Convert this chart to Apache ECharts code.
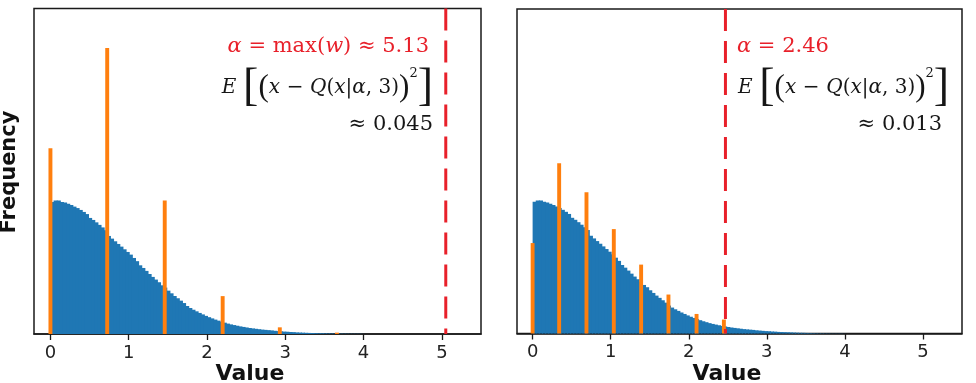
<!DOCTYPE html>
<html>
<head>
<meta charset="utf-8">
<script src="https://cdn.jsdelivr.net/npm/echarts@6/dist/echarts.min.js"></script>
<style>
  html, body { margin: 0; padding: 0; background: #ffffff; }
  #chart { width: 976px; height: 383px; }
</style>
</head>
<body>
<div id="chart"></div>
<script>
// ---------------- data ----------------
const X_TICKS = [0, 1, 2, 3, 4, 5];
const BIN_WIDTH = 0.04;
// blue histogram (same weights in both panels), relative frequency (peak = 100)
const BLUE_FREQ = [
  99, 100, 100, 99, 98.5, 97.6, 96.7, 95.5, 94.4, 93,
  91.5, 89.9, 87, 85.5, 83.7, 81.8, 79.9, 77.8, 73.5, 71.5,
  69.5, 67.5, 65.5, 63.5, 61.5, 59.5, 57, 54.6, 51.5, 49.5,
  47.3, 45, 42.8, 40.8, 38.8, 36.5, 34.8, 32.5, 30.5, 28.5,
  26.8, 25, 23.2, 21, 19.5, 18.2, 17, 15.8, 14.7, 13.6,
  12.6, 11.7, 10.8, 10, 9.2, 8.5, 7.8, 7.2, 6.7, 6.2,
  5.7, 5.3, 4.9, 4.5, 4.2, 3.9, 3.6, 3.3, 3.1, 2.9,
  2.7, 2.4, 2.2, 2.0, 1.8, 1.7, 1.5, 1.4, 1.2, 1.1,
  1.0, 0.9, 0.8, 0.7, 0.6, 0.5, 0.5, 0.4, 0.35, 0.3,
  0.25, 0.2, 0.2, 0.15, 0.15, 0.1, 0.1, 0.1, 0.1, 0.05
];
// orange histogram of quantized weights
const LEFT_LEVELS  = [0, 0.725, 1.46, 2.2, 2.93, 3.66];
const LEFT_COUNTS  = [139.3, 214.4, 100, 28.4, 5, 1.0];
const RIGHT_LEVELS = [0, 0.34, 0.69, 1.04, 1.39, 1.74, 2.10, 2.45];
const RIGHT_COUNTS = [68, 128, 106.2, 78.5, 51.8, 29.3, 14.7, 10.5];
// clipping threshold alpha (dashed red line)
const LEFT_ALPHA = 5.05;
const RIGHT_ALPHA = 2.47;
// texts
const LEFT_ALPHA_TEXT = '{it|α} = max({it|w}) ≈ 5.13';
const RIGHT_ALPHA_TEXT = '{it|α} = 2.46';
const LEFT_MSE = '≈ 0.045';
const RIGHT_MSE = '≈ 0.013';
const X_NAME = 'Value';
const Y_NAME = 'Frequency';
const Y_MAX = 244;

// ---------------- chart ----------------
const BLUE = '#1f77b4', ORANGE = '#ff7f0e', RED = '#e8202a';
const ORANGE_WIDTH = 0.05;

const blueData = BLUE_FREQ.map((v, i) => [i * BIN_WIDTH, (i + 1) * BIN_WIDTH, v]);
const leftOrange = LEFT_LEVELS.map((x, i) => [x, LEFT_COUNTS[i]]);
const rightOrange = RIGHT_LEVELS.map((x, i) => [x, RIGHT_COUNTS[i]]);

function blueRender(params, api) {
  const p0 = api.coord([api.value(0), api.value(2)]);
  const p1 = api.coord([api.value(1), 0]);
  return { type: 'rect', shape: { x: p0[0], y: p0[1], width: p1[0] - p0[0] + 1, height: p1[1] - p0[1] },
           style: { fill: BLUE, stroke: null } };
}
function orangeRender(params, api) {
  const c = api.value(0);
  const p0 = api.coord([c - ORANGE_WIDTH / 2, api.value(1)]);
  const p1 = api.coord([c + ORANGE_WIDTH / 2, 0]);
  return { type: 'rect', shape: { x: p0[0], y: p0[1], width: p1[0] - p0[0], height: p1[1] - p0[1] },
           style: { fill: ORANGE } };
}

function xAxis(gi, min) {
  return {
    type: 'value', gridIndex: gi, min: min, max: 5.5,
    splitLine: { show: false },
    axisLine: { show: true, onZero: false, lineStyle: { color: '#1a1a1a', width: 1.5 } },
    axisTick: { show: true, length: 6, customValues: X_TICKS, lineStyle: { color: '#1a1a1a', width: 1.3 } },
    axisLabel: { customValues: X_TICKS, margin: 10, fontFamily: 'DejaVu Sans', fontSize: 18, color: '#222' }
  };
}
function yAxis(gi) {
  return {
    type: 'value', gridIndex: gi, min: 0, max: Y_MAX,
    splitLine: { show: false }, axisLine: { show: false }, axisTick: { show: false }, axisLabel: { show: false }
  };
}

const serif = 'DejaVu Serif';
const thin = 'Liberation Serif';
const INK = '#161616';
const mathRich = {
  it: { fontFamily: serif, fontStyle: 'italic', fontSize: 20, fill: INK, color: INK },
  n:  { fontFamily: serif, fontSize: 20, fill: INK, color: INK },
  bb: { fontFamily: thin, fontSize: 46, fill: INK, color: INK },
  bp: { fontFamily: thin, fontSize: 31, fill: INK, color: INK },
  sup:{ fontFamily: serif, fontSize: 13, fill: INK, color: INK, padding: [0, 0, 28, 0] }
};
const redRich = {
  it: { fontFamily: serif, fontStyle: 'italic', fontSize: 21, fill: RED, color: RED }
};
const mseExpr = '{it|E} {bb|[}{bp|(}{it|x} {n|−} {it|Q}{n|(}{it|x}{n||}{it|α}{n|, 3)}{bp|)}{sup|2}{bb|]}';

function textEl(x, y, text, opts) {
  return {
    type: 'text', x: x, y: y, z: 100,
    style: Object.assign({ text: text, fontFamily: serif, fontSize: 21, fill: INK }, opts)
  };
}

const option = {
  backgroundColor: '#ffffff',
  animation: false,
  grid: [
    { left: 34, top: 8.5, width: 447, height: 325.5, show: true, borderColor: '#1a1a1a', borderWidth: 1.5, backgroundColor: '#fff' },
    { left: 517, top: 9, width: 445, height: 324.5, show: true, borderColor: '#1a1a1a', borderWidth: 1.5, backgroundColor: '#fff' }
  ],
  xAxis: [xAxis(0, -0.21), xAxis(1, -0.2)],
  yAxis: [yAxis(0), yAxis(1)],
  series: [
    { type: 'custom', xAxisIndex: 0, yAxisIndex: 0, renderItem: blueRender, data: blueData, encode: { x: [0, 1], y: 2 } },
    { type: 'custom', xAxisIndex: 0, yAxisIndex: 0, renderItem: orangeRender, data: leftOrange, encode: { x: 0, y: 1 } },
    { type: 'line', xAxisIndex: 0, yAxisIndex: 0, symbol: 'none', silent: true,
      data: [[LEFT_ALPHA, Y_MAX], [LEFT_ALPHA, 0]],
      lineStyle: { color: RED, width: 3, type: [22, 10], cap: 'butt' } },
    { type: 'custom', xAxisIndex: 1, yAxisIndex: 1, renderItem: blueRender, data: blueData, encode: { x: [0, 1], y: 2 } },
    { type: 'custom', xAxisIndex: 1, yAxisIndex: 1, renderItem: orangeRender, data: rightOrange, encode: { x: 0, y: 1 } },
    { type: 'line', xAxisIndex: 1, yAxisIndex: 1, symbol: 'none', silent: true,
      data: [[RIGHT_ALPHA, Y_MAX], [RIGHT_ALPHA, 0]],
      lineStyle: { color: RED, width: 3, type: [22, 10], cap: 'butt' } }
  ],
  graphic: [
    { type: 'text', x: 10, y: 172, rotation: Math.PI / 2, z: 100,
      style: { text: Y_NAME, font: 'bold 21px "DejaVu Sans"', fill: '#111', align: 'center', verticalAlign: 'middle' } },
    { type: 'text', x: 250, y: 374, z: 100,
      style: { text: X_NAME, font: 'bold 22px "DejaVu Sans"', fill: '#111', align: 'center', verticalAlign: 'middle' } },
    { type: 'text', x: 727, y: 374, z: 100,
      style: { text: X_NAME, font: 'bold 22px "DejaVu Sans"', fill: '#111', align: 'center', verticalAlign: 'middle' } },
    // left annotations
    textEl(429, 47, LEFT_ALPHA_TEXT, { fill: RED, align: 'right', verticalAlign: 'middle', rich: redRich }),
    textEl(433, 88, mseExpr, { align: 'right', verticalAlign: 'middle', rich: mathRich }),
    textEl(433, 125, LEFT_MSE, { align: 'right', verticalAlign: 'middle' }),
    // right annotations
    textEl(737, 47, RIGHT_ALPHA_TEXT, { fill: RED, align: 'left', verticalAlign: 'middle', rich: redRich }),
    textEl(738, 88, mseExpr, { align: 'left', verticalAlign: 'middle', rich: mathRich }),
    textEl(942, 125, RIGHT_MSE, { align: 'right', verticalAlign: 'middle' })
  ]
};

const chart = echarts.init(document.getElementById('chart'), null, { renderer: 'canvas' });
chart.setOption(option);
</script>
</body>
</html>
